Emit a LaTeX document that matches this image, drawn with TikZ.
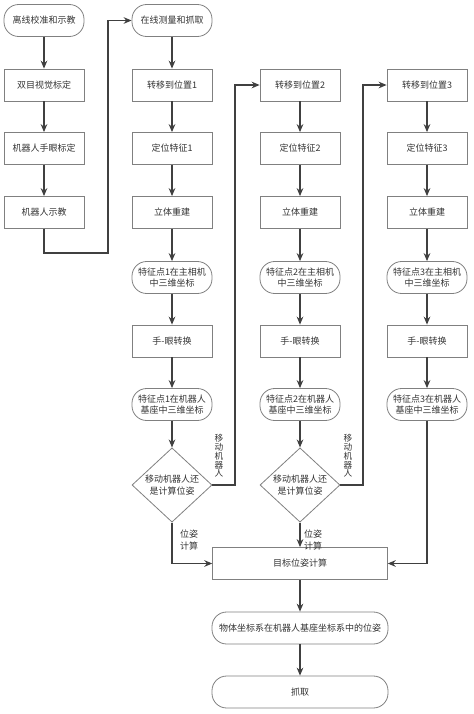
\documentclass[tikz,border=0pt]{standalone}
\usepackage{fontspec}
\newfontfamily\cjk{Noto Sans CJK SC}
\usetikzlibrary{shapes.geometric,arrows.meta}

\begin{document}
\begin{tikzpicture}[x=0.75pt,y=0.75pt,yscale=-1,xscale=1,
  every node/.style={font=\cjk\fontsize{6.75}{8.5}\selectfont, text=black!80},
  procbox/.style={draw=black!50, line width=0.6pt, minimum width=60pt, minimum height=24pt, inner sep=1pt, align=center},
  termbox/.style={procbox, rounded corners=11pt},
  decision/.style={diamond, draw=black!50, line width=0.6pt, minimum width=60pt, minimum height=48pt, inner sep=0pt, align=center, font=\cjk\fontsize{6.75}{9}\selectfont},
  flow/.style={draw=black!75, line width=0.9pt, -{Stealth[length=6pt,width=5pt]}},
  sidetext/.style={align=center, inner sep=0pt, font=\cjk\fontsize{6.75}{9.5}\selectfont},
  vertlabel/.style={align=center, inner sep=0pt, font=\cjk\fontsize{6.5}{6.6}\selectfont}
]
\useasboundingbox (0,0) rectangle (474,714);

%Column: offline calibration
\node[termbox] (off) at (44,20.5) {离线校准和示教};
\node[procbox] (stereo) at (44,85) {双目视觉标定};
\node[procbox] (handeye) at (44,148.5) {机器人手眼标定};
\node[procbox] (teach) at (44,212.5) {机器人示教};

%Column: position 1
\node[termbox] (online) at (172,20.5) {在线测量和抓取};
\node[procbox] (move1) at (172,85) {转移到位置1};
\node[procbox] (loc1) at (172,148.5) {定位特征1};
\node[procbox] (rec1) at (172,212.5) {立体重建};
\node[termbox] (cam1) at (172,277.5) {特征点1在主相机\\中三维坐标};
\node[procbox] (he1) at (172,341) {手-眼转换};
\node[termbox] (base1) at (172,404.5) {特征点1在机器人\\基座中三维坐标};
\node[decision] (dec1) at (172,485) {移动机器人还\\是计算位姿};

%Column: position 2
\node[procbox] (move2) at (300,85) {转移到位置2};
\node[procbox] (loc2) at (300,148.5) {定位特征2};
\node[procbox] (rec2) at (300,212.5) {立体重建};
\node[termbox] (cam2) at (300,277.5) {特征点2在主相机\\中三维坐标};
\node[procbox] (he2) at (300,341) {手-眼转换};
\node[termbox] (base2) at (300,404.5) {特征点2在机器人\\基座中三维坐标};
\node[decision] (dec2) at (300,485) {移动机器人还\\是计算位姿};

%Column: position 3
\node[procbox] (move3) at (427,85) {转移到位置3};
\node[procbox] (loc3) at (427,148.5) {定位特征3};
\node[procbox] (rec3) at (427,212.5) {立体重建};
\node[termbox] (cam3) at (427,277.5) {特征点3在主相机\\中三维坐标};
\node[procbox] (he3) at (427,341) {手-眼转换};
\node[termbox] (base3) at (427,404.5) {特征点3在机器人\\基座中三维坐标};

%Bottom: pose and grasp
\node[procbox, minimum width=131pt] (goal) at (300,563.5) {目标位姿计算};
\node[termbox, minimum width=132pt] (pose) at (300,628) {物体坐标系在机器人基座坐标系中的位姿};
\node[termbox, minimum width=132pt] (grab) at (300,692) {抓取};

% Text Node
\node[vertlabel] (mv1) at (219,456) {移\\动\\机\\器\\人};
\node[vertlabel] (mv2) at (348,456) {移\\动\\机\\器\\人};
\node[sidetext] (calc1) at (189,540) {位姿\\计算};
\node[sidetext] (calc2) at (313,540) {位姿\\计算};

%Arrows: offline column
\draw[flow] (off) -- (stereo);
\draw[flow] (stereo) -- (handeye);
\draw[flow] (handeye) -- (teach);
\coordinate (back) at (108,253);
\draw[flow] (teach.south) |- (back) |- (online.west);

%Arrows: position 1
\draw[flow] (online) -- (move1);
\draw[flow] (move1) -- (loc1);
\draw[flow] (loc1) -- (rec1);
\draw[flow] (rec1) -- (cam1);
\draw[flow] (cam1) -- (he1);
\draw[flow] (he1) -- (base1);
\draw[flow] (base1) -- (dec1);
\coordinate (next1) at (235,485);
\draw[flow] (dec1.east) -- (next1) |- (move2.west);
\draw[flow] (dec1.south) |- (goal.west);

%Arrows: position 2
\draw[flow] (move2) -- (loc2);
\draw[flow] (loc2) -- (rec2);
\draw[flow] (rec2) -- (cam2);
\draw[flow] (cam2) -- (he2);
\draw[flow] (he2) -- (base2);
\draw[flow] (base2) -- (dec2);
\coordinate (next2) at (363,485);
\draw[flow] (dec2.east) -- (next2) |- (move3.west);
\draw[flow] (dec2) -- (goal);

%Arrows: position 3
\draw[flow] (move3) -- (loc3);
\draw[flow] (loc3) -- (rec3);
\draw[flow] (rec3) -- (cam3);
\draw[flow] (cam3) -- (he3);
\draw[flow] (he3) -- (base3);
\draw[flow] (base3.south) |- (goal.east);

%Arrows: bottom
\draw[flow] (goal) -- (pose);
\draw[flow] (pose) -- (grab);

\end{tikzpicture}
\end{document}
